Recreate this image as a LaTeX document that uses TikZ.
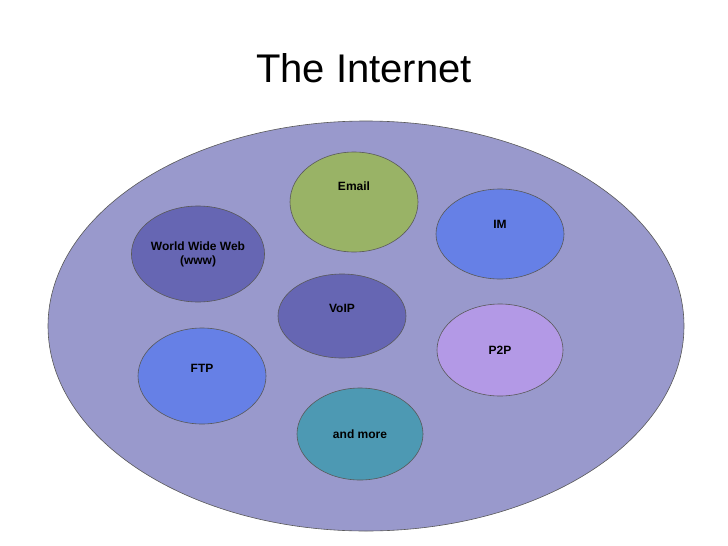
\documentclass[tikz,border=0pt]{standalone}
\usepackage{fontspec}
\setmainfont{Liberation Sans}
\usetikzlibrary{shapes.geometric}
\definecolor{bigc}{HTML}{9999CC}
\definecolor{emailc}{HTML}{99B366}
\definecolor{imc}{HTML}{6680E6}
\definecolor{wwwc}{HTML}{6666B3}
\definecolor{p2pc}{HTML}{B399E6}
\definecolor{morec}{HTML}{4D99B3}
\tikzset{bub/.style={ellipse,draw=gray!70!black,line width=0.6pt,inner sep=0pt,font=\bfseries\fontsize{12}{14}\selectfont,align=center}}
\begin{document}
\begin{tikzpicture}[x=1pt,y=-1pt]
\useasboundingbox (0,0) rectangle (728,546);
\node[font=\fontsize{40}{46}\selectfont] (title) at (364,68) {The Internet};
\node[bub,fill=bigc,minimum width=636,minimum height=410] (net) at (366,326) {};
\node[bub,fill=emailc,minimum width=128,minimum height=100] (email) at (354,202) {\raisebox{0pt}{Email}\\[18pt]};
\node[bub,fill=imc,minimum width=128,minimum height=90] (im) at (500,234) {IM\\[6pt]};
\node[bub,fill=wwwc,minimum width=124,minimum height=96] (www) at (198,254) {World Wide Web\\(www)};
\node[bub,fill=wwwc,minimum width=128,minimum height=84] (voip) at (342,316) {VoIP\\[2pt]};
\node[bub,fill=p2pc,minimum width=126,minimum height=92] (p2p) at (500,350) {P2P};
\node[bub,fill=imc,minimum width=128,minimum height=96] (ftp) at (202,376) {FTP\\[2pt]};
\node[bub,fill=morec,minimum width=126,minimum height=92] (more) at (360,434) {and more};
\end{tikzpicture}
\end{document}
